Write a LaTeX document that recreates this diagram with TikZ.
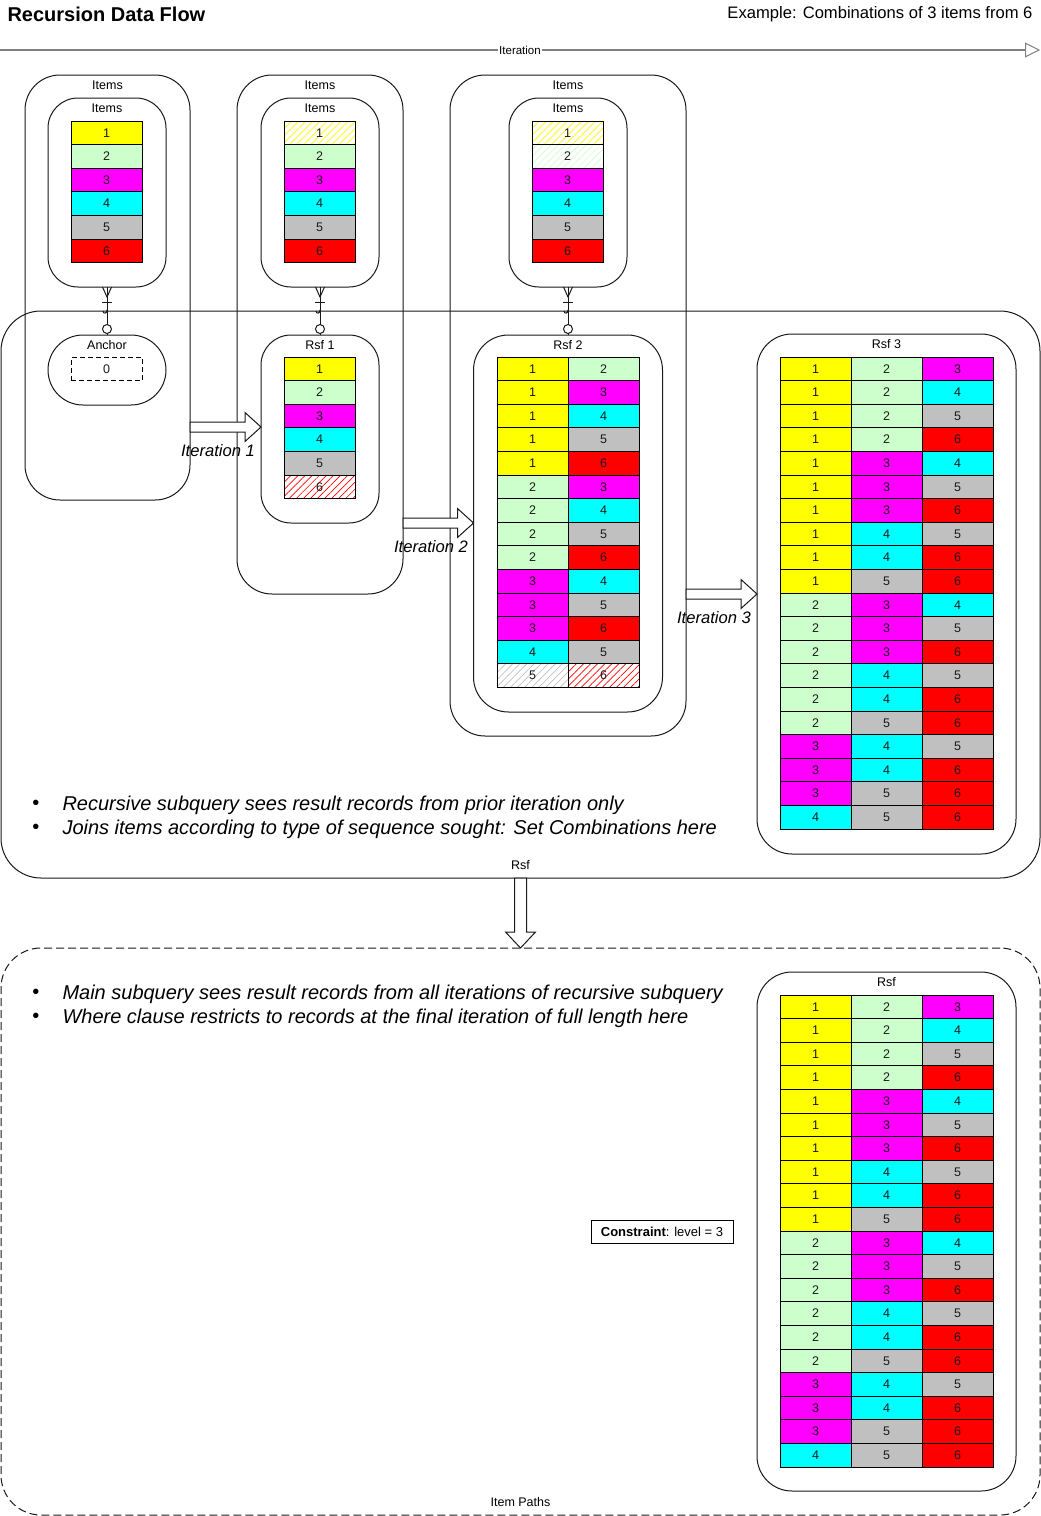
\documentclass[tikz,border=0pt]{standalone}
\usepackage{fontspec}
\setmainfont{Liberation Sans}
\usetikzlibrary{calc, patterns.meta, arrows.meta}

\definecolor{item1}{HTML}{FFFF00}
\definecolor{item2}{HTML}{CCFFCC}
\definecolor{item3}{HTML}{FF00FF}
\definecolor{item4}{HTML}{00FFFF}
\definecolor{item5}{HTML}{C0C0C0}
\definecolor{item6}{HTML}{FF0000}

\begin{document}
\begin{tikzpicture}[x=1pt, y=-1pt, line width=1pt, font=\fontsize{12.5}{15}\selectfont,
	roundbox/.style={draw=black!90, rounded corners=#1, inner sep=0pt, outer sep=0pt},
	roundbox/.default=35pt,
	boxlabel/.style={label={[anchor=north, inner sep=5pt]north:#1}},
	footlabel/.style={label={[anchor=south, inner sep=8pt]south:#1}},
	cell/.style={draw, line width=0.9pt, text=black!90, minimum width=71pt, minimum height=23.6pt, inner sep=0pt, outer sep=0pt},
	cellhatch/.style={pattern={Lines[angle=45, distance=5pt, line width=0.7pt]}, pattern color=#1},
	hollow/.style={draw=black!90, fill=white, line width=1pt},
	bulletline/.style={anchor=west, inner sep=0pt, font=\fontsize{20}{24}\selectfont\itshape},
	bulletdot/.style={inner sep=0pt, font=\fontsize{20}{24}\selectfont},
	iterlabel/.style={inner sep=0pt, font=\fontsize{16.6}{20}\selectfont\itshape},
	]
	
	% 1. Page size
	\useasboundingbox (0,0) rectangle (1041,1516);
	
	% 2. Title and time line
	\node[anchor=west, inner sep=0pt, font=\fontsize{20}{22}\selectfont\bfseries] (title) at (7,14) {Recursion Data Flow};
	\node[anchor=east, inner sep=0pt, font=\fontsize{16.6}{20}\selectfont] (example) at (1033,14) {Example: Combinations of 3 items from 6};
	\coordinate (itstart) at (0,50);
	\coordinate (itend) at (1040,50);
	\draw[draw=black!50, line width=1.6pt, -{Triangle[open, length=15pt, width=15pt, line width=1pt]}] (itstart)
	-- node[fill=white, inner sep=1pt, font=\fontsize{11.5}{13}\selectfont] (itlabel) {Iteration} (itend);
	
	% 3. Recursive part and main part
	\node[roundbox=40pt, footlabel=Rsf, minimum width=1039, minimum height=567] (rsfbig) at (520.5,594.5) {};
	\node[roundbox=40pt, dash pattern=on 8pt off 4pt, footlabel=Item Paths, minimum width=1039, minimum height=567] (paths) at (520.5,1231.5) {};
	
	% 4. Iteration columns
	\node[roundbox, boxlabel=Items, minimum width=165, minimum height=425] (col1) at (107.5,287.5) {};
	\node[roundbox, boxlabel=Items, minimum width=166, minimum height=519] (col2) at (320,334.5) {};
	\node[roundbox, boxlabel=Items, minimum width=236, minimum height=661] (col3) at (568,405.5) {};
	\foreach \n/\cx in {1/107, 2/320, 3/568}
	\node[roundbox=30pt, boxlabel=Items, minimum width=118, minimum height=189] (items\n) at (\cx,192.5) {};
	\node[roundbox, boxlabel=Anchor, minimum width=118, minimum height=70] (anchor) at (107,370) {};
	\node[roundbox=30pt, boxlabel=Rsf 1, minimum width=118, minimum height=188] (rsf1) at (320,429) {};
	\node[roundbox, boxlabel=Rsf 2, minimum width=189, minimum height=377] (rsf2) at (568,523.5) {};
	\node[roundbox, boxlabel=Rsf 3, minimum width=259, minimum height=520] (rsf3) at (886.5,594) {};
	\node[roundbox, boxlabel=Rsf, minimum width=259, minimum height=519] (rsfall) at (886.5,1231.5) {};
	
	% 5. Item cells, the used ones hatched
	\foreach \n/\cx in {1/106.5, 2/319.5, 3/567.5} {
		\foreach \v in {1,...,6} {
			\ifnum\v<\n
			\node[cell, cellhatch=item\v] (it\n-\v) at (\cx,{121+23.6*\v-11.8}) {\v};
			\else
			\node[cell, fill=item\v] (it\n-\v) at (\cx,{121+23.6*\v-11.8}) {\v};
			\fi
		}
	}
	\node[cell, dash pattern=on 5pt off 3pt] (zero) at (106.5,369) {0};
	
	% 6. Rsf 1 and Rsf 2
	\foreach \v in {1,...,5}
	\node[cell, fill=item\v] (one-\v) at (319.5,{357+23.6*\v-11.8}) {\v};
	\node[cell, cellhatch=item6] (one-6) at (319.5,{357+23.6*6-11.8}) {6};
	\foreach \a/\b [count=\row] in {1/2,1/3,1/4,1/5,1/6,2/3,2/4,2/5,2/6,3/4,3/5,3/6,4/5} {
		\node[cell, fill=item\a] (two-\row-1) at (532.5,{357+23.6*\row-11.8}) {\a};
		\node[cell, fill=item\b] (two-\row-2) at (603.5,{357+23.6*\row-11.8}) {\b};
	}
	\node[cell, cellhatch=item5] (two-14-1) at (532.5,{357+23.6*14-11.8}) {5};
	\node[cell, cellhatch=item6] (two-14-2) at (603.5,{357+23.6*14-11.8}) {6};
	
	% 7. Rsf 3 and the final Rsf hold all combinations
	\foreach \top/\tab in {357/three, 995/final} {
		\foreach \a/\b/\c [count=\row] in {1/2/3,1/2/4,1/2/5,1/2/6,1/3/4,1/3/5,1/3/6,1/4/5,1/4/6,1/5/6,
			2/3/4,2/3/5,2/3/6,2/4/5,2/4/6,2/5/6,3/4/5,3/4/6,3/5/6,4/5/6} {
			\foreach \v [count=\k] in {\a,\b,\c}
			\node[cell, fill=item\v] (\tab-\row-\k) at ({744.5+71*\k},{\top+23.6*\row-11.8}) {\v};
		}
	}
	
	% 8. Joins: crow foot at the items, zero at the result
	\foreach \src/\dst in {items1/anchor, items2/rsf1, items3/rsf2} {
		\draw[draw=black!90] (\src.south) -- (\dst.north);
		\draw[draw=black!90] ($(\src.south)+(-4.5,0)$) -- ($(\src.south)+(0,10)$) -- ($(\src.south)+(4.5,0)$);
		\draw[draw=black!90] ($(\src.south)+(-5,15)$) -- ($(\src.south)+(5,15)$);
		\coordinate (jump) at (\src.south |- rsfbig.north);
		\draw[draw=black!90] ($(jump)+(0,-1)$) .. controls ($(jump)+(0,3)$) and ($(jump)+(-4,3)$) .. ($(jump)+(-4,0)$);
		\draw[draw=black!90, fill=white] ($(\dst.north)+(0,-6)$) circle (4.5);
	}
	
	% 9. Iteration arrows
	\foreach \from/\to/\y/\n in {col1/rsf1/427/1, col2/rsf2/523/2, col3/rsf3/594/3} {
		\draw[hollow] ($(\from.east |- 0,\y)+(0,-5)$) -- ($(\to.west |- 0,\y)+(-16,-5)$) -- ++(0,-9.5)
		-- (\to.west |- 0,\y) -- ++(-16,14.5) -- ++(0,-9.5) -- ($(\from.east |- 0,\y)+(0,5)$) -- cycle;
		\node[iterlabel] (iter\n) at ($(\from.east |- 0,\y)+(28,24)$) {Iteration \n};
	}
	\draw[hollow] ($(rsfbig.south)+(-6,0)$) -- ($(paths.north)+(-6,-16)$) -- ++(-9,0) -- (paths.north)
	-- ++(15,-16) -- ++(-9,0) -- ($(rsfbig.south)+(6,0)$) -- cycle;
	
	% 10. Notes
	\node[bulletdot] (dot1) at (36,805) {\textbullet};
	\node[bulletline] (note1) at (62,805) {Recursive subquery sees result records from prior iteration only};
	\node[bulletdot] (dot2) at (36,829) {\textbullet};
	\node[bulletline] (note2) at (62,829) {Joins items according to type of sequence sought: Set Combinations here};
	\node[bulletdot] (dot3) at (36,994) {\textbullet};
	\node[bulletline] (note3) at (62,994) {Main subquery sees result records from all iterations of recursive subquery};
	\node[bulletdot] (dot4) at (36,1018) {\textbullet};
	\node[bulletline] (note4) at (62,1018) {Where clause restricts to records at the final iteration of full length here};
	
	% 11. Constraint
	\node[draw, line width=0.9pt, minimum width=142, minimum height=23, inner sep=0pt, font=\fontsize{13}{15}\selectfont] (constraint) at (662,1231.5) {\textbf{Constraint}: level = 3};
	
\end{tikzpicture}
\end{document}
